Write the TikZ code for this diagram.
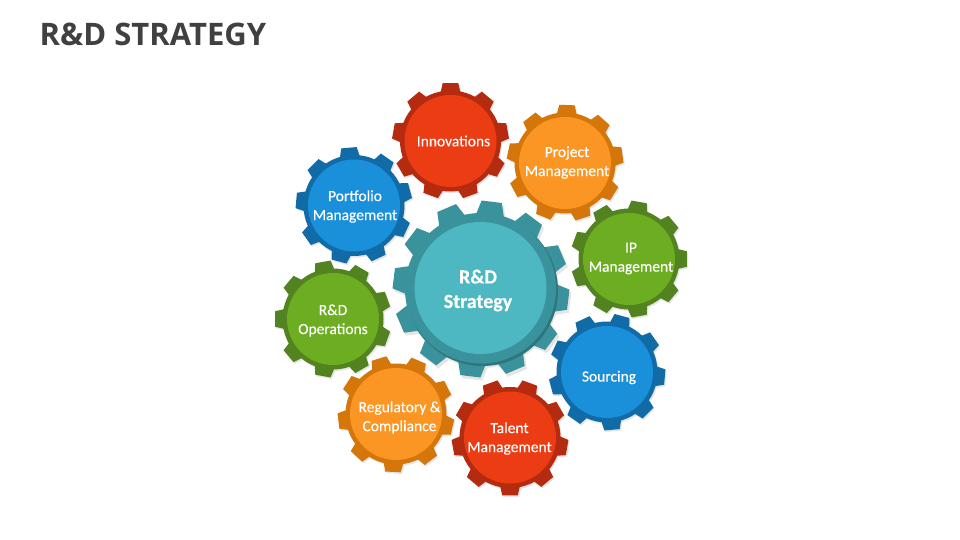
\documentclass[tikz,border=0pt]{standalone}
\usepackage{fontspec}
\setmainfont{Carlito}
\newfontfamily\titlefont{Open Sans}
\newfontfamily\lab[FakeBold=0.35]{Carlito}
\definecolor{tealL}{HTML}{4DB8C2}\definecolor{tealD}{HTML}{3A929C}
\definecolor{redL}{HTML}{EC3C14}\definecolor{redD}{HTML}{B42B10}
\definecolor{orL}{HTML}{FB9524}\definecolor{orD}{HTML}{D4760A}
\definecolor{grL}{HTML}{6CAD22}\definecolor{grD}{HTML}{538220}
\definecolor{blL}{HTML}{1A8FDA}\definecolor{blD}{HTML}{106BA6}
\tikzset{
 x=1pt,y=-1pt,
 geartext/.style={text=white,align=center,font=\lab\fontsize{15.5}{19}\selectfont,inner sep=0pt},
}
% #1 cx #2 cy #3 ring r #4 tip r #5 teeth #6 start angle #7 colour
\newcommand{\gearshape}[7]{%
 \pgfmathsetmacro{\gstep}{360/#5}
 \pgfmathsetmacro{\gbase}{\gstep*(#5>9 ? 0.36 : 0.29)}
 \pgfmathsetmacro{\gtop}{\gstep*(#5>9 ? 0.22 : 0.19)}
 \foreach \k in {1,...,#5}{%
  \pgfmathsetmacro{\gang}{#6+\k*\gstep}
  \fill[#7] ({#1+(#3-1)*cos(\gang-\gbase)},{#2-(#3-1)*sin(\gang-\gbase)}) --
   ({#1+#4*cos(\gang-\gtop)},{#2-#4*sin(\gang-\gtop)}) --
   ({#1+#4*cos(\gang+\gtop)},{#2-#4*sin(\gang+\gtop)}) --
   ({#1+(#3-1)*cos(\gang+\gbase)},{#2-(#3-1)*sin(\gang+\gbase)}) -- cycle;
 }%
 \fill[#7] (#1,#2) circle[radius=#3];
}
% name cx cy angle dark light textx texty text
\newcommand{\smallgear}[9]{%
 \gearshape{#2+1.2}{#3+1.6}{50.5}{58.5}{9}{#4}{black!10}
 \gearshape{#2}{#3}{50.5}{58.5}{9}{#4}{#5}
 \node[circle,fill=#6,minimum size=92pt,inner sep=0pt] (#1) at (#2,#3) {};
 \node[geartext] (#1t) at (#7,#8) {#9};
}
\begin{document}
\begin{tikzpicture}
\useasboundingbox (0,0) rectangle (960,540);
\fill[white] (0,0) rectangle (960,540);
\node[anchor=west,inner sep=0pt,text=black!75,font=\titlefont\fontsize{31}{35}\selectfont\bfseries] (title) at (39.5,34.5) {R\&D STRATEGY};
% centre gear
\gearshape{483}{292}{76}{88.5}{12}{-7}{black!10}
\gearshape{481}{289}{76}{88.5}{12}{-7}{tealD}
\fill[tealD!80!black] (482.5,290.5) circle[radius=75.5];
\fill[tealD] (481,288.5) circle[radius=75];
\node[circle,fill=tealL,minimum size=132pt,inner sep=0pt] (core) at (480.5,288) {};
\node[geartext,font=\lab\fontsize{20}{24.5}\selectfont\bfseries] (coret) at (478,290.5) {R\&D\\Strategy};
\smallgear{inno}{450.5}{141}{50}{redD}{redL}{453.5}{141}{Innovations}
\smallgear{proj}{565}{163}{48}{orD}{orL}{567}{162.5}{Project\\Management}
\smallgear{ip}{629}{259}{0}{grD}{grL}{631}{258.5}{IP\\Management}
\smallgear{sourc}{607}{372}{35}{blD}{blL}{609}{377.5}{Sourcing}
\smallgear{talent}{510}{437.5}{-50}{redD}{redL}{509.5}{438.5}{Talent\\Management}
\smallgear{reg}{396}{414}{-53}{orD}{orL}{399.5}{417.5}{Regulatory \&\\Compliance}
\smallgear{rnd}{333}{319}{20}{grD}{grL}{333}{320.5}{R\&D\\Operations}
\smallgear{port}{354}{205.5}{15}{blD}{blL}{355}{206.5}{Portfolio\\Management}
\end{tikzpicture}
\end{document}
